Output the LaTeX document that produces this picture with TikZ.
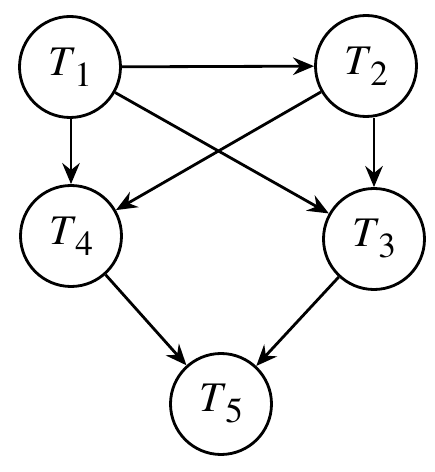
\documentclass[tikz,border=0pt]{standalone}
\usepackage{mathptmx}
\usetikzlibrary{arrows.meta}
\newcommand{\tsk}[1]{$T$\kern-1.5pt\raisebox{-6.2pt}{\fontsize{20}{20}\selectfont$#1$}}
\tikzset{task/.style={draw, line width=1.6pt, circle, minimum size=20.2mm, inner sep=0pt, font=\fontsize{24}{28}\selectfont},
  dep/.style={-{Stealth[length=12pt, width=10pt, inset=4pt]}, line width=1.6pt}}

\begin{document}
\begin{tikzpicture}
  \useasboundingbox (0,0) rectangle (8.7,9.44);
  \node[task] (t1) at (1.40,8.10) {\tsk1};
  \node[task] (t2) at (7.32,8.12) {\tsk2};
  \node[task] (t4) at (1.42,4.72) {\tsk4};
  \node[task] (t3) at (7.48,4.66) {\tsk3};
  \node[task] (t5) at (4.42,1.36) {\tsk5};
  % first row
  \draw[dep] (t1) -- (t2);
  % down to the middle row
  \draw[dep] (t4.north |- t1.south) -- (t4.north);
  \draw[dep] (t1) -- (t3);
  \draw[dep] (t2) -- (t4);
  \draw[dep] (t3.north |- t2.south) -- (t3.north);
  % into the last task
  \draw[dep] (t4) -- (t5);
  \draw[dep] (t3) -- (t5);
\end{tikzpicture}
\end{document}
